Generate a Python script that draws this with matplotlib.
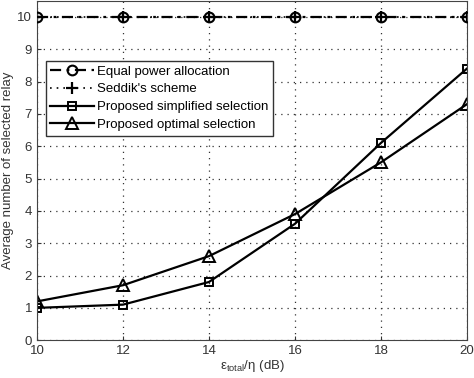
import numpy as np
import matplotlib.pyplot as plt

plt.rcParams['font.family'] = ['Liberation Sans', 'DejaVu Sans']

# data
snr = [10, 12, 14, 16, 18, 20]
equal_power = [10, 10, 10, 10, 10, 10]
seddik = [10, 10, 10, 10, 10, 10]
simplified = [1.0, 1.1, 1.8, 3.6, 6.1, 8.4]
optimal = [1.2, 1.7, 2.6, 3.9, 5.5, 7.3]

fig = plt.figure(figsize=(4.74, 3.78), dpi=100)
ax = fig.add_axes([0.078, 0.1, 0.907, 0.898])

ax.plot(snr, equal_power, color='k', linestyle=(0, (5, 2.5, 1.2, 2.5)), linewidth=1.6,
        marker='o', markersize=7, markerfacecolor='none', markeredgewidth=1.5,
        label='Equal power allocation', zorder=3)
ax.plot(snr, seddik, color='k', linestyle=(0, (1, 3)), linewidth=1.2,
        marker='+', markersize=9, markeredgewidth=1.6,
        label="Seddik's scheme", zorder=2)
ax.plot(snr, simplified, color='k', linestyle='-', linewidth=1.6,
        marker='s', markersize=6, markerfacecolor='none', markeredgewidth=1.4,
        label='Proposed simplified selection')
ax.plot(snr, optimal, color='k', linestyle='-', linewidth=1.6,
        marker='^', markersize=8, markerfacecolor='none', markeredgewidth=1.4,
        label='Proposed optimal selection')

ax.set_xlim(10, 20)
ax.set_ylim(0, 10.5)
ax.set_xticks(np.arange(10, 21, 2))
ax.set_yticks(np.arange(0, 11, 1))
ax.grid(True, color='#333333', linestyle=(0, (1, 4)), linewidth=0.9)
ax.tick_params(labelsize=9.5, direction='in', length=3, colors='#333333')
for s in ax.spines.values():
    s.set_color('#444444')

ax.set_xlabel(r'$\mathregular{\varepsilon_{total}/\eta}$ (dB)', fontsize=9.5, labelpad=1,
              color='#333333')
ax.set_ylabel('Average number of selected relay', fontsize=9.5, labelpad=2,
              color='#333333')

leg = ax.legend(loc='upper left', bbox_to_anchor=(0.02, 0.823), fontsize=9.5,
                fancybox=False, edgecolor='#333333', framealpha=1, numpoints=1,
                handlelength=3.3, borderpad=0.35, labelspacing=0.42,
                handletextpad=0.25, borderaxespad=0)
leg.get_frame().set_linewidth(1.0)

fig.savefig('out.png', dpi=100)
